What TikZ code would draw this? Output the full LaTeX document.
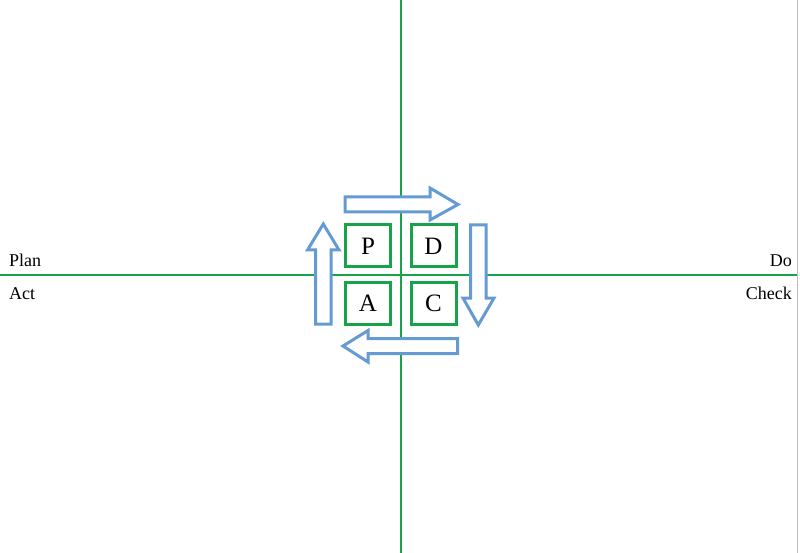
\documentclass[tikz,border=0pt]{standalone}
\usepackage{fontspec}
\setmainfont{Liberation Serif}
\definecolor{pgreen}{RGB}{22,163,74}
\definecolor{pblue}{RGB}{100,155,210}
\begin{document}
\begin{tikzpicture}[x=1pt,y=-1pt,
  axis/.style={draw=pgreen,line width=2.6pt},
  box/.style={draw=pgreen,line width=3pt,minimum width=45pt,minimum height=42pt,inner sep=0pt,font=\fontsize{25}{25}\selectfont},
  arr/.style={draw=pblue,line width=3pt,line join=miter,fill=white},
  lab/.style={font=\fontsize{18}{18}\selectfont,inner sep=0pt}]
\useasboundingbox (0,0) rectangle (800,553);
\fill[white] (0,0) rectangle (800,553);
\draw[gray!50,line width=1.2pt] (797.5,0) -- (797.5,553);
\coordinate (vt) at (401,0);
\coordinate (vb) at (401,553);
\coordinate (hl) at (0,275);
\coordinate (hr) at (797,275);
\draw[axis] (vt) -- (vb);
\draw[axis] (hl) -- (hr);
\node[box,fill=white] (P) at (368,246) {P};
\node[box,fill=white] (D) at (433.5,246) {D};
\node[box,fill=white] (A) at (368,303) {A};
\node[box,fill=white] (C) at (433.5,303) {C};
% top arrow (right)
\draw[arr] (345,197) -- (430,197) -- (430,188) -- (458,204.5) -- (430,220) -- (430,212) -- (345,212) -- cycle;
% right arrow (down)
\draw[arr] (470.5,225) -- (486,225) -- (486,298) -- (494,298) -- (478.3,325) -- (463,298) -- (470.5,298) -- cycle;
% bottom arrow (left)
\draw[arr] (457.5,338.5) -- (368,338.5) -- (368,330.5) -- (343,346) -- (368,362) -- (368,353.5) -- (457.5,353.5) -- cycle;
% left arrow (up)
\draw[arr] (315.5,324) -- (331,324) -- (331,250) -- (339,250) -- (323.3,224) -- (307.5,250) -- (315.5,250) -- cycle;
\node[lab,anchor=base west] (plan) at (9,267) {Plan};
\node[lab,anchor=base west] (act) at (9,299) {Act};
\node[lab,anchor=base east] (do) at (792,266) {Do};
\node[lab,anchor=base east] (check) at (792,299) {Check};
\end{tikzpicture}
\end{document}
